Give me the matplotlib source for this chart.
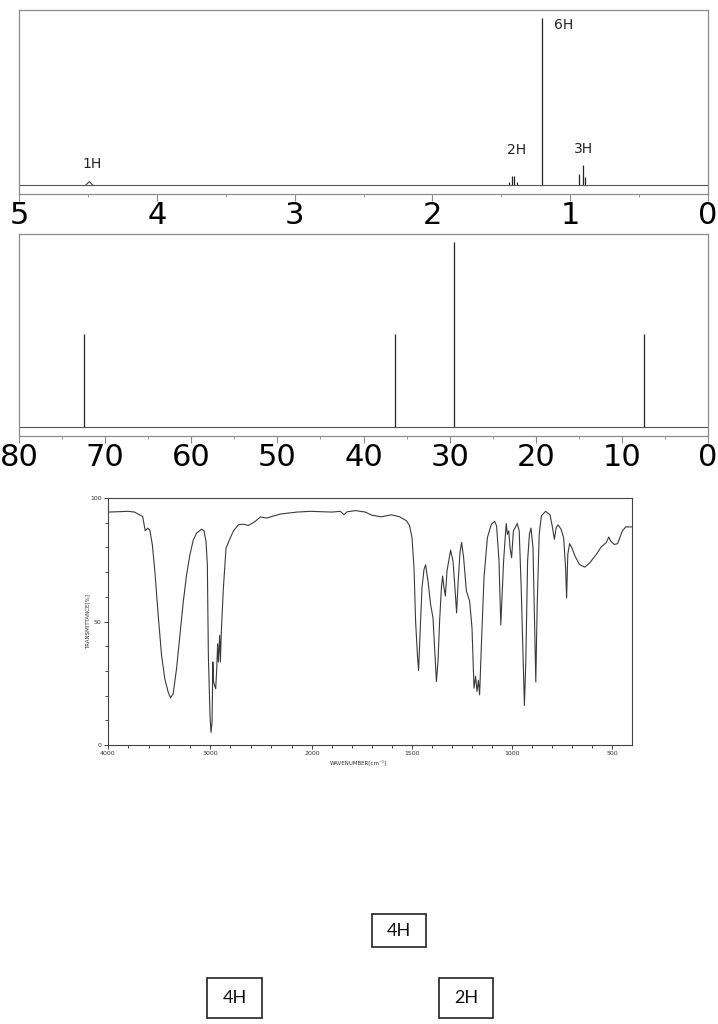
import matplotlib.pyplot as plt
import numpy as np
from matplotlib.patches import Rectangle
from matplotlib.ticker import MultipleLocator, FixedLocator, FormatStrFormatter

# 1H NMR lines (ppm, relative height)
h_shift = [1.442, 1.425, 1.406, 1.386, 1.205, 0.935, 0.910, 0.890]
h_height = [0.02, 0.055, 0.055, 0.02, 1.0, 0.065, 0.12, 0.045]
oh_shift = 4.49
oh_height = 0.02
h_labels = ["1H", "2H", "6H", "3H"]

# 13C NMR lines
c_shift = [72.4, 36.3, 29.5, 7.45]
c_height = [0.5, 0.5, 1.0, 0.5]

# IR spectrum (wavenumber cm-1, transmittance %)
ir_wn = [4000, 3800, 3740, 3660, 3635, 3610, 3590, 3565, 3540, 3508, 3475, 3443,
         3410, 3387, 3361, 3328, 3295, 3262, 3230, 3197, 3164, 3131, 3082, 3059,
         3039, 3026, 3016, 3000, 2990, 2980, 2972, 2966, 2955, 2944, 2934, 2925,
         2918, 2905, 2898, 2889, 2869, 2843, 2803, 2770, 2721, 2672, 2623, 2557,
         2508, 2443, 2311, 2148, 2016, 1900, 1858, 1840, 1825, 1783, 1733, 1700,
         1653, 1603, 1562, 1528, 1512, 1500, 1490, 1482, 1473, 1467, 1460, 1450,
         1440, 1432, 1420, 1407, 1395, 1387, 1378, 1370, 1362, 1353, 1347, 1340,
         1333, 1325, 1307, 1295, 1283, 1277, 1270, 1260, 1252, 1242, 1228, 1212,
         1200, 1190, 1182, 1175, 1168, 1162, 1153, 1140, 1123, 1103, 1087, 1077,
         1065, 1059, 1056, 1051, 1042, 1029, 1023, 1016, 1010, 1002, 993, 984,
         974, 964, 954, 944, 938, 931, 922, 913, 905, 895, 889, 881,
         874, 864, 853, 832, 810, 799, 788, 779, 770, 755, 742, 732,
         727, 721, 712, 701, 685, 663, 636, 611, 578, 554, 529, 516,
         507, 489, 472, 448, 431, 400]
ir_t = [94.3, 94.6, 94.3, 92.5, 86.7, 87.8, 87.0, 81.0, 70.0, 52.6, 36.3, 26.8,
        21.4, 19.1, 20.7, 30.9, 44.4, 58.0, 68.8, 77.0, 83.0, 85.8, 87.4, 86.7,
        82.4, 72.9, 36.3, 11.9, 5.1, 9.2, 33.6, 26.0, 24.0, 22.8, 30.9, 41.0,
        33.6, 44.4, 33.6, 45.8, 63.4, 79.7, 83.7, 86.7, 89.2, 89.4, 88.9, 90.5,
        92.3, 91.9, 93.5, 94.3, 94.6, 94.3, 94.6, 93.2, 94.4, 94.9, 94.3, 93.0,
        92.4, 93.2, 92.4, 90.8, 88.8, 84.0, 71.8, 50.1, 36.6, 30.1, 44.7, 63.7,
        71.1, 72.9, 66.4, 56.9, 51.5, 39.3, 25.7, 33.9, 50.1, 63.7, 68.4, 63.7,
        60.3, 70.5, 78.9, 74.5, 61.0, 53.5, 65.0, 77.9, 82.0, 75.9, 62.3, 58.3,
        47.4, 23.0, 27.8, 21.7, 26.2, 20.3, 40.7, 67.8, 84.0, 89.4, 90.5, 88.7,
        74.5, 56.8, 48.6, 57.5, 74.5, 89.7, 85.3, 86.7, 79.9, 75.8, 86.7, 88.0,
        89.7, 86.7, 63.6, 33.7, 16.0, 33.7, 74.5, 85.3, 87.8, 79.9, 56.8, 25.5,
        56.8, 85.3, 92.8, 94.6, 93.2, 88.7, 83.3, 88.0, 89.1, 87.4, 84.0, 71.7,
        59.5, 77.2, 81.5, 79.9, 76.5, 73.1, 72.0, 73.8, 77.2, 80.2, 81.9, 84.2,
        82.6, 81.2, 81.5, 86.7, 88.3, 88.3]

box_labels = ["4H", "4H", "2H"]

W, H = 718, 1024
fig = plt.figure(figsize=(W / 100, H / 100), dpi=100)
frame = "#8c8c8c"


def px_axes(x0, y0, x1, y1):
    return fig.add_axes([x0 / W, 1 - y1 / H, (x1 - x0) / W, (y1 - y0) / H])


def nmr_style(ax, major, minor):
    for s in ax.spines.values():
        s.set_color(frame)
        s.set_linewidth(0.9)
    ax.set_yticks([])
    ax.xaxis.set_major_locator(MultipleLocator(major))
    ax.xaxis.set_minor_locator(MultipleLocator(minor))
    ax.xaxis.set_major_formatter(FormatStrFormatter("%d"))
    ax.tick_params(axis="x", which="major", direction="out", length=5,
                   color=frame, labelsize=22, pad=0)
    ax.tick_params(axis="x", which="minor", direction="out", length=2.5,
                   color=frame)
    ax.axhline(0, color="#555555", lw=0.8)


# ---- 1H NMR ----
ax1 = px_axes(19, 10, 708, 194)
ax1.vlines(h_shift, 0, h_height, color="#222222", lw=0.9)
ax1.plot([oh_shift + 0.025, oh_shift, oh_shift - 0.025], [0, oh_height, 0],
         color="#444444", lw=0.8)
ax1.set_xlim(5, 0)
ax1.set_ylim(-0.054, 1.048)
nmr_style(ax1, 1, 0.5)
lab_xy = [(4.47, 0.126), (1.39, 0.21), (1.05, 0.96), (0.90, 0.215)]
for t, (x, y) in zip(h_labels, lab_xy):
    ax1.text(x, y, t, fontsize=10, ha="center", va="center", color="#222222")

# ---- 13C NMR ----
ax2 = px_axes(19, 234, 708, 436)
ax2.vlines(c_shift, 0, c_height, color="#222222", lw=0.9)
ax2.set_xlim(80, 0)
ax2.set_ylim(-0.0486, 1.043)
nmr_style(ax2, 10, 5)


# ---- IR ----
def fwd(w):
    w = np.asarray(w, dtype=float)
    return np.where(w > 2000, 2000 + (w - 2000) * 0.51, w)


def inv(u):
    u = np.asarray(u, dtype=float)
    return np.where(u > 2000, 2000 + (u - 2000) / 0.51, u)


ax3 = px_axes(108, 498, 632, 745)
ax3.set_xscale("function", functions=(fwd, inv))
ax3.plot(ir_wn, ir_t, color="#3a3a3a", lw=0.8)
ax3.set_xlim(4000, 400)
ax3.set_ylim(0, 100)
for s in ax3.spines.values():
    s.set_color("#444444")
    s.set_linewidth(0.8)
ax3.xaxis.set_major_locator(FixedLocator([4000, 3000, 2000, 1500, 1000, 500]))
ax3.xaxis.set_minor_locator(FixedLocator(list(range(3800, 2000, -200)) +
                                         list(range(1900, 400, -100))))
ax3.yaxis.set_major_locator(FixedLocator([0, 50, 100]))
ax3.yaxis.set_minor_locator(MultipleLocator(10))
ax3.xaxis.set_major_formatter(FormatStrFormatter("%d"))
ax3.yaxis.set_major_formatter(FormatStrFormatter("%d"))
ax3.tick_params(which="both", direction="out", color="#444444", width=0.7,
                labelsize=4.5, labelcolor="#333333", pad=1.5)
ax3.tick_params(which="major", length=3)
ax3.tick_params(which="minor", length=2)
fig.text(88 / W, 1 - 622 / H, "TRANSMITTANCE[%]", rotation=90, fontsize=4,
         ha="center", va="center", color="#333333")
fig.text(358 / W, 1 - 762 / H, "WAVENUMBER[cm⁻¹]", fontsize=4,
         ha="center", va="center", color="#333333")

# ---- boxes ----
boxes = [(372, 914, 426, 947), (207, 978, 262, 1018), (439, 978, 493, 1018)]
for t, (x0, y0, x1, y1) in zip(box_labels, boxes):
    fig.patches.append(Rectangle((x0 / W, 1 - y1 / H), (x1 - x0) / W,
                                 (y1 - y0) / H, transform=fig.transFigure,
                                 fill=False, edgecolor="#222222", lw=1.2))
    fig.text((x0 + x1) / 2 / W, 1 - (y0 + y1) / 2 / H, t, fontsize=13,
             family="Lato", ha="center", va="center", color="#111111")

fig.savefig("out.png", dpi=100)
